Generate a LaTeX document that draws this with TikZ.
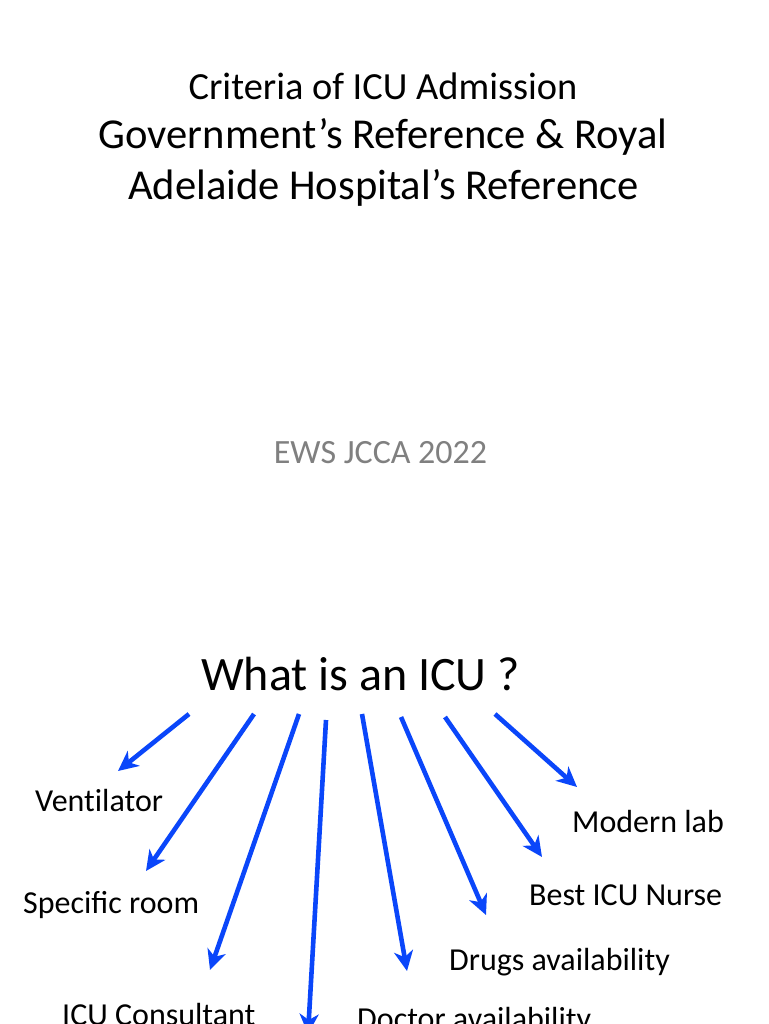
\documentclass[tikz,border=0pt]{standalone}
\usepackage{fontspec}
\setmainfont{Carlito}
\usetikzlibrary{arrows.meta}
\definecolor{arrowblue}{RGB}{10,70,250}
\tikzset{
  label/.style={inner sep=0pt,anchor=base west,text=black,font=\fontsize{32}{38}\selectfont},
  head/.style={inner sep=0pt,anchor=base,text=black},
  spoke/.style={draw=arrowblue,line width=4.6pt,-{Stealth[length=20pt,width=19pt,inset=6pt]}}
}
\begin{document}
\begin{tikzpicture}[x=1pt,y=-1pt]
\useasboundingbox (0,0) rectangle (768,1024);
\clip (0,0) rectangle (768,1024);
\fill[white] (0,0) rectangle (768,1024);
\node[head,font=\fontsize{38.4}{44}\selectfont] (t1) at (383,99.5) {Criteria of ICU Admission};
\node[head,font=\fontsize{42.6}{50}\selectfont] (t2) at (383,149) {Government’s Reference \& Royal};
\node[head,font=\fontsize{42.6}{50}\selectfont] (t3) at (383.5,200) {Adelaide Hospital’s Reference};
\node[head,font=\fontsize{34}{40}\selectfont,text=black!50] (sub) at (380.5,463) {EWS JCCA 2022};
\node[head,font=\fontsize{48}{56}\selectfont] (q) at (360.5,690) {What is an ICU ?};
\node[label] (a) at (35,811) {Vent\kern0pt ilator};
\node[label] (b) at (23,913.5) {Specific room};
\node[label] (c) at (62,1025) {ICU Consultant};
\node[label] (e) at (357,1029) {Doctor availability};
\node[label] (f) at (449,970) {Drugs availability};
\node[label] (g) at (529,905) {Best ICU Nurse};
\node[label] (h) at (572,832) {Modern lab};
\coordinate (s1) at (189,714); \coordinate (e1) at (118,771);
\coordinate (s2) at (254,714); \coordinate (e2) at (146,871);
\coordinate (s3) at (299,714); \coordinate (e3) at (210,970);
\coordinate (s4) at (326,720); \coordinate (e4) at (308,1034);
\coordinate (s5) at (362,714); \coordinate (e5) at (407,971);
\coordinate (s6) at (401,717); \coordinate (e6) at (486,915);
\coordinate (s7) at (445,717); \coordinate (e7) at (542,857);
\coordinate (s8) at (495,714); \coordinate (e8) at (577,787);
\foreach \i in {1,...,8} \draw[spoke] (s\i) -- (e\i);
\end{tikzpicture}
\end{document}
